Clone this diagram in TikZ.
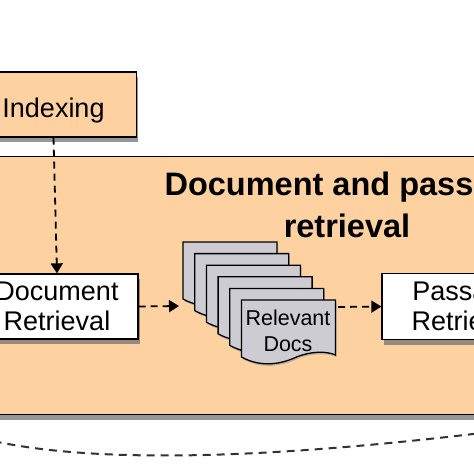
\documentclass[tikz,border=0pt]{standalone}
\usepackage{fontspec}
\setmainfont{Liberation Sans}
\usetikzlibrary{arrows.meta,shadows}
\definecolor{peach}{RGB}{253,210,160}
\definecolor{docgray}{RGB}{204,204,210}
\definecolor{curvegray}{RGB}{50,50,50}
\begin{document}
\begin{tikzpicture}[x=1pt,y=1pt,
  shadowed/.style={drop shadow={shadow xshift=1.5pt,shadow yshift=-5pt,fill=black!55,opacity=0.75}},
  box/.style={draw=black,line width=1.3pt,shadowed,inner sep=0pt},
  lbl/.style={font=\fontsize{27}{29.5}\selectfont,align=center},
  flow/.style={line width=1.8pt,dash pattern=on 7pt off 5pt,-{Triangle[length=10pt,width=12pt]}},
  sheet/.style={draw=black,line width=1.3pt,fill=docgray,
    drop shadow={shadow xshift=1pt,shadow yshift=-2pt,fill=black!40,opacity=0.6}}]
\useasboundingbox (0,0) rectangle (474,-474);
\fill[white] (0,0) rectangle (474,-474);

% main container
\node (main) [box,fill=peach,minimum width=540,minimum height=258,anchor=north west] at (-30,-156) {};
\node (title) [font=\bfseries\fontsize{32.5}{42}\selectfont,align=center] at (347,-205) {Document and passage\\retrieval};

% boxes
\node (idx) [box,fill=peach,lbl,text height=25pt,text depth=0pt,minimum width=166,minimum height=65] at (53.5,-104.5) {Indexing};
\node (docret) [box,fill=white,lbl,minimum width=162,minimum height=65] at (57,-306.5) {Document\\Retrieval};
\node (pasret) [box,fill=white,lbl,minimum width=166,minimum height=66] at (465,-306.5) {Passage\\Retrieval};

% stack of documents
\foreach \i in {0,...,5}{
  \begin{scope}[shift={(183+11.7*\i,-242-11.6*\i)}]
    \draw[sheet] (0,0) -- (94,0) -- (94,-55)
      .. controls (85,-51) and (70,-51) .. (55,-57)
      .. controls (40,-64) and (20,-68) .. (0,-57) -- cycle;
  \end{scope}
}
\node (docs) [font=\fontsize{21.5}{26}\selectfont,align=center] at (288,-330.5) {Relevant\\Docs};
\coordinate (stackin) at (179,-306);
\coordinate (stackout) at (338,-307);

% connectors
\draw[flow] (idx.south) -- (docret.north);
\draw[flow] (docret.east) -- (stackin);
\draw[flow] (stackout) -- (pasret.west);

% bottom dashed curve
\coordinate (cl) at (-20,-438);
\coordinate (cr) at (490,-432);
\draw[curvegray,line width=2pt,dash pattern=on 8pt off 6pt] (cl) .. controls (100,-468) and (300,-455) .. (cr);
\end{tikzpicture}
\end{document}
